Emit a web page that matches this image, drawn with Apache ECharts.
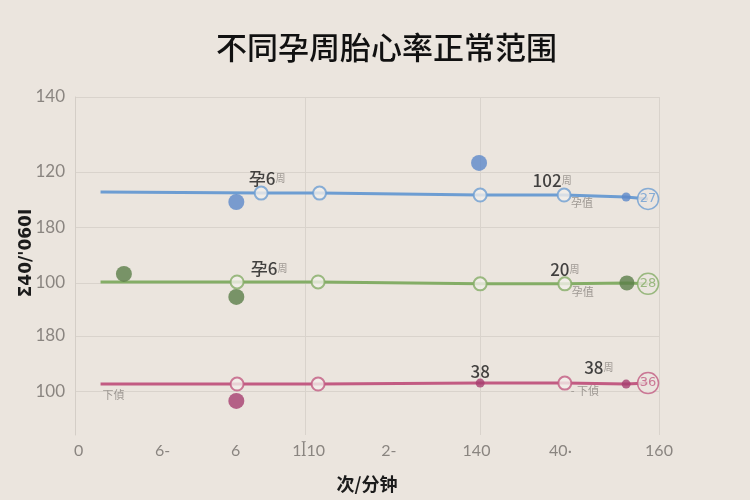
<!DOCTYPE html>
<html>
<head>
<meta charset="utf-8">
<script src="https://cdn.jsdelivr.net/npm/echarts@6/dist/echarts.min.js"></script>
<style>html,body{margin:0;padding:0;background:#ebe5de;}#c{width:750px;height:500px;}</style>
</head>
<body>
<div id="c"></div>
<script>
// ---- data ----
const titleText = '不同孕周胎心率正常范围';
const xAxisName = '次/分钟';
const yAxisName = "Σ40/'060I";
const xLabelValues = [1, 24, 44, 64, 86, 110, 133, 160];
const xLabelTexts = ['0', '6-', '6', '1ꟾ10', '2-', '140', '40·', '160'];
const xGridValues = [0, 63, 111, 160];
const yLabelValues = [18, 41, 63, 86, 109, 140];
const yLabelTexts = ['100', '180', '100', '180', '120', '140'];

const blueX = [7, 51, 67, 111, 134, 151, 157];
const blueY = [100.6, 100.2, 100.2, 99.4, 99.4, 98.6, 97.8];
const blueDotsX = [44.2, 110.7];
const blueDotsY = [96.5, 112.7];

const greenX = [7, 44.4, 66.6, 111, 134.2, 151.2, 157];
const greenY = [63.4, 63.4, 63.4, 62.6, 62.6, 63.0, 62.6];
const greenDotsX = [13.4, 44.2];
const greenDotsY = [66.7, 57.2];

const pinkX = [7, 44.4, 66.6, 111, 134.2, 151, 157];
const pinkY = [21.1, 21.1, 21.1, 21.5, 21.5, 21.1, 21.5];
const pinkDotsX = [44.2];
const pinkDotsY = [14.1];

const endNumbers = ['27', '28', '36'];

// ---- styles / build ----
const BG = '#ebe5de';
const C = {
  blue: {line: '#6d9dd2', dot: '#5d88c9'},
  green: {line: '#84ad66', dot: '#5b7e48'},
  pink: {line: '#c25b82', dot: '#a63e6f'}
};
const zip = (xs, ys) => xs.map((x, i) => [x, ys[i]]);

const blueKinds  = ['none','open','open','open','open','small','end'];
const greenKinds = ['none','open','open','open','open','big','end'];
const pinkKinds  = ['none','open','open','small','open','small','end'];

const richText = {
  a: {fontSize: 17, color: '#161616', fontFamily: 'Noto Sans CJK SC', fontWeight: 500},
  b: {fontSize: 10, color: '#8a8580', fontFamily: 'Noto Sans CJK SC'},
  g: {fontSize: 11, color: '#8a8580', fontFamily: 'Noto Sans CJK SC'}
};

function buildSeries(name, xs, ys, kinds, col, dotsX, dotsY, endNum, extraLabels) {
  const pts = zip(xs, ys);
  const out = [];
  out.push({type: 'line', name, data: pts, showSymbol: false, symbol: 'none',
    lineStyle: {color: col.line, width: 3}, z: 2, silent: true});
  out.push({type: 'scatter', data: pts.filter((p, i) => kinds[i] === 'open'), symbol: 'circle', symbolSize: 13,
    itemStyle: {color: '#f3efea', borderColor: col.line, borderWidth: 2}, z: 4});
  out.push({type: 'scatter', data: pts.filter((p, i) => kinds[i] === 'small'), symbol: 'circle', symbolSize: 9,
    itemStyle: {color: col.dot}, z: 4});
  out.push({type: 'scatter', data: pts.filter((p, i) => kinds[i] === 'big'), symbol: 'circle', symbolSize: 15,
    itemStyle: {color: col.dot}, z: 4});
  out.push({type: 'scatter', data: pts.filter((p, i) => kinds[i] === 'end'), symbol: 'circle', symbolSize: 21,
    itemStyle: {color: BG, borderColor: col.line, borderWidth: 1.5}, z: 4,
    label: {show: true, position: 'inside', formatter: endNum, color: col.line, fontSize: 13, fontFamily: 'DejaVu Sans'}});
  out.push({type: 'scatter', data: zip(dotsX, dotsY), symbol: 'circle', symbolSize: 16,
    itemStyle: {color: col.dot}, z: 3});
  extraLabels.forEach(l => {
    out.push({type: 'scatter', data: [pts[l.i]], symbolSize: 0, z: 6, silent: true,
      label: {show: true, position: l.pos || 'top', offset: l.off || [0, 0],
        formatter: l.f, rich: richText}});
  });
  return out;
}

const series = [].concat(
  buildSeries('blue', blueX, blueY, blueKinds, C.blue, blueDotsX, blueDotsY, endNumbers[0], [
    {i: 1, f: '{a|孕6}{b|周}', off: [6, -1]},
    {i: 4, f: '{a|102}{b|周}', off: [-12, -1]},
    {i: 4, f: '{g|孕值}', pos: 'bottom', off: [18, -3]}
  ]),
  buildSeries('green', greenX, greenY, greenKinds, C.green, greenDotsX, greenDotsY, endNumbers[1], [
    {i: 1, f: '{a|孕6}{b|周}', off: [32, 0]},
    {i: 4, f: '{a|20}{b|周}', off: [0, -1]},
    {i: 4, f: '{g|孕值}', pos: 'bottom', off: [18, -3]}
  ]),
  buildSeries('pink', pinkX, pinkY, pinkKinds, C.pink, pinkDotsX, pinkDotsY, endNumbers[2], [
    {i: 0, f: '{g|下偵}', pos: 'bottom', off: [13, 0]},
    {i: 3, f: '{a|38}', off: [0, 2]},
    {i: 4, f: '{a|38}{b|周}', off: [34, -2]},
    {i: 4, f: '{g|- 下偵}', pos: 'bottom', off: [20, -3]}
  ])
);

const chart = echarts.init(document.getElementById('c'), null, {renderer: 'canvas'});
chart.setOption({
  backgroundColor: BG,
  animation: false,
  title: {text: titleText, left: 211, top: 27,
    textStyle: {fontSize: 31, fontWeight: 500, color: '#111', fontFamily: 'Noto Sans CJK SC'}},
  grid: {left: 75, right: 91, top: 97, bottom: 65},
  xAxis: {
    type: 'value', min: 0, max: 160,
    name: xAxisName, nameLocation: 'middle', nameGap: 40,
    nameTextStyle: {fontSize: 18, fontWeight: 'bold', color: '#1b1b1b', fontFamily: 'Noto Sans CJK SC'},
    axisLine: {show: false},
    axisTick: {show: false, customValues: xGridValues},
    splitLine: {show: true, lineStyle: {color: '#d9d3cc', width: 1}},
    axisLabel: {customValues: xLabelValues, color: '#8a8580', fontSize: 16, margin: 8,
      fontFamily: 'Lato',
      formatter: v => xLabelTexts[xLabelValues.indexOf(v)]}
  },
  yAxis: {
    type: 'value', min: 0, max: 140,
    name: yAxisName, nameLocation: 'middle', nameGap: 40, nameRotate: 90,
    nameMoveOverlap: false,
    nameTextStyle: {fontSize: 17, fontWeight: 'bold', color: '#1b1b1b', fontFamily: 'DejaVu Sans', padding: [0, 0, 0, 26]},
    axisLine: {show: true, lineStyle: {color: '#d4cec7', width: 1}},
    axisTick: {show: false, customValues: yLabelValues},
    splitLine: {show: true, lineStyle: {color: '#d9d3cc', width: 1}},
    axisLabel: {customValues: yLabelValues, color: '#8a8580', fontSize: 17, margin: 10,
      fontFamily: 'Lato',
      formatter: v => yLabelTexts[yLabelValues.indexOf(v)]}
  },
  series: series
});
</script>
</body>
</html>
